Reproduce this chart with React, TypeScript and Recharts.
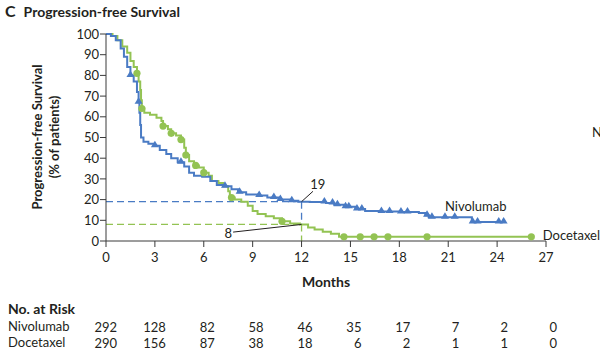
import React from "react";
import {
  ComposedChart,
  Line,
  Scatter,
  XAxis,
  YAxis,
  ReferenceLine,
  ReferenceDot,
} from "recharts";

const MONTH_TICKS = [0, 3, 6, 9, 12, 15, 18, 21, 24, 27];
const PCT_TICKS = [0, 10, 20, 30, 40, 50, 60, 70, 80, 90, 100];

// Kaplan-Meier steps
const NIVO_MONTHS = [0, 0.3, 0.6, 0.9, 1.1, 1.3, 1.5, 1.7, 1.9, 2.0, 2.05, 2.1, 2.15, 2.3, 2.6, 3.0, 3.3, 3.7, 4.0, 4.4, 4.8, 5.1, 5.4, 5.9, 6.4, 6.8, 7.2, 7.7, 8.1, 8.6, 9.3, 9.9, 10.6, 11.3, 11.8, 12.5, 13.5, 14.0, 14.6, 15.3, 15.9, 16.8, 18.0, 19.2, 19.6, 19.8, 22.45, 24.45];
const NIVO_PCT = [100, 99, 97, 93, 89, 84, 80, 77, 72, 67, 62, 56, 50, 48, 47, 46, 44, 42, 40, 38, 36, 33, 31.5, 31, 29, 27, 26.5, 25, 23.5, 22.5, 22, 21, 20, 19.5, 19, 18.8, 18.3, 17.5, 16.5, 15.5, 14.5, 14.2, 14, 13.5, 12.5, 11.5, 9.2, 9.2];

const DOCE_MONTHS = [0, 0.4, 0.7, 1.0, 1.3, 1.5, 1.7, 1.9, 2.0, 2.1, 2.15, 2.2, 2.35, 2.7, 3.1, 3.4, 3.5, 3.8, 4.0, 4.3, 4.6, 4.8, 4.9, 5.1, 5.4, 5.7, 6.0, 6.3, 6.5, 6.9, 7.2, 7.5, 7.6, 7.9, 8.3, 8.7, 9.0, 9.3, 9.8, 10.3, 10.8, 11.3, 11.9, 12.4, 12.8, 13.3, 13.8, 14.3, 26.1];
const DOCE_PCT = [100, 99, 97, 94, 91, 87, 84, 81, 77, 73, 68, 64, 62, 61, 59.5, 58, 55.5, 54, 52, 51, 49, 45, 41.5, 38.5, 36.5, 35.5, 33, 31.5, 29, 28, 26.5, 24, 21, 20, 19, 17, 14.5, 13, 12, 11, 9.5, 8.5, 8, 6.5, 5.5, 4.5, 3.5, 2, 2];

// censored observations
const NIVO_CENSOR_MONTHS = [1.5, 2.0, 3.0, 4.6, 7.3, 8.2, 9.4, 10.3, 10.7, 11.4, 13.4, 13.9, 14.2, 14.7, 14.9, 15.4, 15.7, 16.9, 17.4, 18.1, 18.5, 19.7, 20.0, 20.8, 21.4, 22.5, 22.8, 24.1, 24.4];
const NIVO_CENSOR_PCT = [80, 67, 46, 38, 26.5, 23.5, 22, 21, 20, 19.5, 18.8, 18.3, 17.5, 16.5, 16.5, 15.5, 15.5, 14.2, 14.2, 14, 14, 12.5, 11.5, 11.5, 11.5, 9.2, 9.2, 9.2, 9.2];
const DOCE_CENSOR_MONTHS = [1.9, 2.2, 3.5, 4.0, 4.6, 4.9, 5.5, 6.0, 7.7, 10.8, 14.6, 15.6, 16.45, 17.3, 19.7, 26.1];
const DOCE_CENSOR_PCT = [81, 64, 55.5, 52, 49, 41.5, 36.5, 33, 21, 9.5, 2, 2, 2, 2, 2, 2];

const RISK_NIVO = [292, 128, 82, 58, 46, 35, 17, 7, 2, 0];
const RISK_DOCE = [290, 156, 87, 38, 18, 6, 2, 1, 1, 0];

const MILESTONE_MONTH = 12;
const NIVO_AT_MILESTONE = 19;
const DOCE_AT_MILESTONE = 8;

const BLUE = "#4a7bc4";
const GREEN = "#93c353";
const INK = "#231f20";
const FONT = "Lato, 'Open Sans', sans-serif";

const zip = (ms: number[], ps: number[]) => ms.map((m, i) => ({ month: m, pct: ps[i] }));

const nivoData = zip(NIVO_MONTHS, NIVO_PCT);
const doceData = zip(DOCE_MONTHS, DOCE_PCT);
const nivoCensor = zip(NIVO_CENSOR_MONTHS, NIVO_CENSOR_PCT);
const doceCensor = zip(DOCE_CENSOR_MONTHS, DOCE_CENSOR_PCT);

const Triangle = (p: any) => (
  <path
    d={`M${p.cx},${p.cy - 5} L${p.cx + 4},${p.cy + 1.5} L${p.cx - 4},${p.cy + 1.5} Z`}
    fill={BLUE}
  />
);

const Dot = (p: any) => <circle cx={p.cx} cy={p.cy} r={3.6} fill={GREEN} />;

const MonthTick = (props: any) => {
  const { x, y, payload } = props;
  const i = MONTH_TICKS.indexOf(payload.value);
  return (
    <g fontFamily={FONT} fontSize={13} fill={INK}>
      <text x={x} y={y + 13} textAnchor="middle" fill={INK}>
        {payload.value}
      </text>
      <text x={x + 11} y={y + 83} textAnchor="end" fill={INK}>
        {RISK_NIVO[i]}
      </text>
      <text x={x + 11} y={y + 99} textAnchor="end" fill={INK}>
        {RISK_DOCE[i]}
      </text>
    </g>
  );
};

const textAt = (label: string, fill: string, anchor: string, dy: number) => (p: any) => (
  <text
    x={p.cx}
    y={p.cy + dy}
    textAnchor={anchor as any}
    fill={fill}
    fontFamily={FONT}
    fontSize={13}
  >
    {label}
  </text>
);

export default function App() {
  return (
    <div style={{ position: "absolute", left: 0, top: 0, width: 600, height: 356, background: "#fff", fontFamily: FONT, color: INK }}>
      <div style={{ position: "absolute", left: 5, top: 1, fontSize: 16, fontWeight: 700, whiteSpace: "nowrap" }}>
        C
        <span style={{ fontSize: 14, marginLeft: 8 }}>Progression-free Survival</span>
      </div>
      <div
        style={{
          position: "absolute",
          left: 46,
          top: 137,
          transform: "translate(-50%, -50%) rotate(-90deg)",
          textAlign: "center",
          fontSize: 13,
          fontWeight: 700,
          lineHeight: "17px",
          whiteSpace: "nowrap",
        }}
      >
        Progression-free Survival
        <br />
        (% of patients)
      </div>
      <div style={{ position: "absolute", left: 326, top: 273, transform: "translateX(-50%)", fontSize: 14, fontWeight: 700 }}>
        Months
      </div>
      <div style={{ position: "absolute", left: 8, top: 300, fontSize: 14, fontWeight: 700 }}>No. at Risk</div>
      <div style={{ position: "absolute", left: 8, top: 318, fontSize: 13 }}>Nivolumab</div>
      <div style={{ position: "absolute", left: 8, top: 334, fontSize: 13 }}>Docetaxel</div>
      <div style={{ position: "absolute", left: 592, top: 124, fontSize: 13 }}>N</div>

      <ComposedChart
        width={600}
        height={356}
        margin={{ top: 34, right: 54, bottom: 0, left: 0 }}
        style={{ position: "absolute", left: 0, top: 0 }}
      >
        <XAxis
          type="number"
          dataKey="month"
          domain={[0, 27]}
          ticks={MONTH_TICKS}
          interval={0}
          height={115}
          tickSize={6}
          tickMargin={2}
          stroke="#3a3a3a"
          tick={<MonthTick />}
          allowDataOverflow
        />
        <YAxis
          type="number"
          dataKey="pct"
          domain={[0, 100]}
          ticks={PCT_TICKS}
          interval={0}
          width={106}
          tickSize={6}
          tickMargin={1}
          stroke="#3a3a3a"
          tick={{ fontSize: 13, fill: INK, fontFamily: FONT }}
        />

        <ReferenceLine
          segment={[{ x: 0, y: NIVO_AT_MILESTONE }, { x: MILESTONE_MONTH, y: NIVO_AT_MILESTONE }]}
          stroke={BLUE}
          strokeDasharray="7 4"
          strokeWidth={1.3}
        />
        <ReferenceLine
          segment={[{ x: MILESTONE_MONTH, y: NIVO_AT_MILESTONE }, { x: MILESTONE_MONTH, y: DOCE_AT_MILESTONE }]}
          stroke={BLUE}
          strokeDasharray="7 4"
          strokeWidth={1.3}
        />
        <ReferenceLine
          segment={[{ x: 0, y: DOCE_AT_MILESTONE }, { x: MILESTONE_MONTH, y: DOCE_AT_MILESTONE }]}
          stroke={GREEN}
          strokeDasharray="7 4"
          strokeWidth={1.3}
        />
        <ReferenceLine
          segment={[{ x: MILESTONE_MONTH, y: DOCE_AT_MILESTONE }, { x: MILESTONE_MONTH, y: 0 }]}
          stroke={GREEN}
          strokeDasharray="7 4"
          strokeWidth={1.3}
        />

        <Line
          data={doceData}
          dataKey="pct"
          type="stepAfter"
          stroke={GREEN}
          strokeWidth={2}
          dot={false}
          isAnimationActive={false}
        />
        <Scatter data={doceCensor} dataKey="pct" shape={<Dot />} isAnimationActive={false} />
        <Line
          data={nivoData}
          dataKey="pct"
          type="stepAfter"
          stroke={BLUE}
          strokeWidth={2}
          dot={false}
          isAnimationActive={false}
        />
        <Scatter data={nivoCensor} dataKey="pct" shape={<Triangle />} isAnimationActive={false} />

        <ReferenceLine
          segment={[{ x: MILESTONE_MONTH, y: NIVO_AT_MILESTONE }, { x: 12.7, y: 24 }]}
          stroke={INK}
          strokeWidth={1}
        />
        <ReferenceLine
          segment={[{ x: MILESTONE_MONTH, y: DOCE_AT_MILESTONE }, { x: 7.8, y: 4.3 }]}
          stroke={INK}
          strokeWidth={1}
        />
        <ReferenceDot x={13.0} y={27.5} r={0} shape={textAt(String(NIVO_AT_MILESTONE), INK, "middle", 5)} />
        <ReferenceDot x={7.5} y={3.7} r={0} shape={textAt(String(DOCE_AT_MILESTONE), INK, "middle", 5)} />
        <ReferenceDot x={20.8} y={16.7} r={0} shape={textAt("Nivolumab", INK, "start", 5)} />
        <ReferenceDot x={26.8} y={2.7} r={0} shape={textAt("Docetaxel", INK, "start", 5)} />
      </ComposedChart>
    </div>
  );
}
